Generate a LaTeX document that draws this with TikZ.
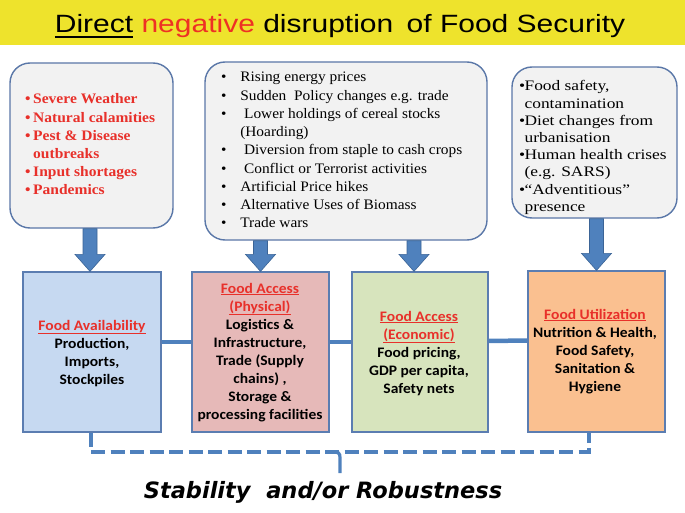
\documentclass[tikz,border=0pt]{standalone}
\usepackage{fontspec}
\setmainfont{Liberation Serif}
\newfontfamily\arialf{Liberation Sans}
\newfontfamily\calf{Carlito}
\newfontfamily\dvf{DejaVu Sans}
\usetikzlibrary{arrows.meta,calc}
\definecolor{ttlyellow}{HTML}{EEE32C}
\definecolor{ttlred}{HTML}{EE3124}
\definecolor{listred}{HTML}{E8302A}
\definecolor{boxedge}{HTML}{5A77A8}
\definecolor{boxfill}{HTML}{F2F2F2}
\definecolor{arrblue}{HTML}{4F81BD}
\definecolor{arrdark}{HTML}{3B6496}
\definecolor{availfill}{HTML}{C6D9F1}
\definecolor{physfill}{HTML}{E6B9B8}
\definecolor{econfill}{HTML}{D7E4BD}
\definecolor{utilfill}{HTML}{FAC090}
\definecolor{catedge}{HTML}{5B7DB1}
\newcommand\bu[1]{\makebox[#1][l]{\textbullet}}
\newcommand\thickul[1]{\setbox0\hbox{#1}\rlap{\rule[-5pt]{\wd0}{1.8pt}}\box0\relax}
\newcommand\blockarrow[2]{\path[draw=arrdark,line width=0.6pt,fill=arrblue] let \p1=(#1), \p2=(#2) in
  (\x1-7pt,\y1) -- (\x1+7pt,\y1) -- (\x1+7pt,\y2+17pt) -- (\x1+15pt,\y2+17pt) -- (\x1,\y2)
  -- (\x1-15pt,\y2+17pt) -- (\x1-7pt,\y2+17pt) -- cycle;}
\tikzset{
  topbox/.style={draw=boxedge,line width=1.4pt,fill=boxfill,rounded corners=20pt,inner sep=0pt},
  catbox/.style={draw=catedge,line width=1.2pt,inner sep=0pt},
  listtxt/.style={anchor=base west,inner sep=0pt},
  cattxt/.style={anchor=base,inner sep=0pt,font=\calf\bfseries\fontsize{14.5}{18}\selectfont},
  conn/.style={draw=arrblue,line width=4.5pt},
  dashconn/.style={draw=arrblue,line width=3.2pt,dash pattern=on 14pt off 5.5pt}
}
\begin{document}
\begin{tikzpicture}[x=1pt,y=-1pt]
\useasboundingbox (0,0) rectangle (685,513);
% title band
\fill[ttlyellow] (0,0) rectangle (685,45);
\node[anchor=base,inner sep=0pt,font=\arialf\fontsize{25}{30}\selectfont] (title) at (340,33)
  {\scalebox{1.2}[1]{\thickul{Direct} \textcolor{ttlred}{negative} disruption\, of Food Security}};
% top boxes
\node[topbox,minimum width=163pt,minimum height=165pt] (t1) at (91.5,145.5) {};
\node[topbox,minimum width=282pt,minimum height=178pt] (t2) at (346,151) {};
\node[topbox,minimum width=165pt,minimum height=151pt] (t3) at (594.5,142.5) {};
% category boxes
\node[catbox,fill=availfill,minimum width=138pt,minimum height=160pt] (A) at (92,352) {};
\node[catbox,fill=physfill,minimum width=137pt,minimum height=160pt] (B) at (260.5,352) {};
\node[catbox,fill=econfill,minimum width=136pt,minimum height=160pt] (C) at (420,352) {};
\node[catbox,fill=utilfill,minimum width=137pt,minimum height=161pt] (D) at (596.5,351.5) {};
% horizontal connectors
\draw[conn] ([yshift=10pt]A.east) -- ([yshift=10pt]B.west);
\draw[conn] ([yshift=10pt]B.east) -- ([yshift=10pt]C.west);
\draw[conn] ([yshift=11pt]C.east) -- ([yshift=11pt]D.west);
% block arrows
\blockarrow{$(t1.south)+(-1.5pt,0)$}{$(A.north)+(-2pt,0)$}
\blockarrow{B.north |- t2.south}{B.north}
\blockarrow{$(C.north |- t2.south)+(-6pt,0)$}{$(C.north)+(-6pt,0)$}
\blockarrow{D.north |- t3.south}{D.north}
% lists
\node[listtxt,text=listred,font=\bfseries\fontsize{14.5}{18.2}\selectfont] (l1) at (25,104)
 {\scalebox{1.07}[1]{\begin{tabular}[t]{@{}l@{}}
  \bu{7.5pt}Severe Weather\\
  \bu{7.5pt}Natural calamities\\
  \bu{7.5pt}Pest \& Disease\\
  \hspace*{7.5pt}outbreaks\\
  \bu{7.5pt}Input shortages\\
  \bu{7.5pt}Pandemics
  \end{tabular}}};
\node[listtxt,font=\fontsize{14.5}{18.25}\selectfont] (l2) at (221,82)
 {\scalebox{1.06}[1]{\begin{tabular}[t]{@{}l@{}}
  \bu{18pt}Rising energy prices\\
  \bu{18pt}Sudden\ \ Policy changes e.g. trade\\
  \bu{18pt}\ Lower holdings of cereal stocks\\
  \hspace*{18pt}(Hoarding)\\
  \bu{18pt}\ Diversion from staple to cash crops\\
  \bu{18pt}\ Conflict or Terrorist activities\\
  \bu{18pt}Artificial Price hikes\\
  \bu{18pt}Alternative Uses of Biomass\\
  \bu{18pt}Trade wars
  \end{tabular}}};
\node[listtxt,font=\fontsize{14.5}{17.2}\selectfont] (l3) at (519,91)
 {\scalebox{1.2}[1]{\begin{tabular}[t]{@{}l@{}}
  \bu{4.5pt}Food safety,\\
  \hspace*{4.5pt}contamination\\
  \bu{4.5pt}Diet changes from\\
  \hspace*{4.5pt}urbanisation\\
  \bu{4.5pt}Human health crises\\
  \hspace*{4.5pt}(e.g. SARS)\\
  \bu{4.5pt}``Adventitious''\\
  \hspace*{4.5pt}presence
  \end{tabular}}};
% category texts
\node[cattxt] (ta) at (92,330)
 {\scalebox{1.07}[1]{\begin{tabular}[t]{@{}c@{}}
  \textcolor{listred}{\underline{Food Availability}}\\
  Production,\\ Imports,\\ Stockpiles
  \end{tabular}}};
\node[cattxt] (tb) at (260,293)
 {\scalebox{1.07}[1]{\begin{tabular}[t]{@{}c@{}}
  \textcolor{listred}{\underline{Food Access}}\\
  \textcolor{listred}{\underline{(Physical)}}\\
  Logistics \&\\ Infrastructure,\\ Trade (Supply\\ chains) ,\\ Storage \&\\ processing facilities
  \end{tabular}}};
\node[cattxt] (tc) at (419,321)
 {\scalebox{1.07}[1]{\begin{tabular}[t]{@{}c@{}}
  \textcolor{listred}{\underline{Food Access}}\\
  \textcolor{listred}{\underline{(Economic)}}\\
  Food pricing,\\ GDP per capita,\\ Safety nets
  \end{tabular}}};
\node[cattxt] (td) at (595,319)
 {\scalebox{1.07}[1]{\begin{tabular}[t]{@{}c@{}}
  \textcolor{listred}{\underline{Food Utilization}}\\
  Nutrition \& Health,\\ Food Safety,\\ Sanitation \&\\ Hygiene
  \end{tabular}}};
% stability bracket
\coordinate (bl) at (91,452);
\coordinate (br) at (589,452);
\coordinate (bm) at (340,452);
\draw[dashconn] ([xshift=-1pt]A.south) -- (A.south -| bl) -- (bl) -- (br) -- (D.south -| br);
\node[anchor=base,inner sep=0pt,font=\dvf\bfseries\itshape\fontsize{22.5}{27}\selectfont] (stab) at (323,498)
  {Stability\ \ and/or Robustness};
\draw[arrblue,line width=3.2pt] ($(bm)+(-8pt,0)$) .. controls ($(bm)+(-1pt,0)$) and ($(bm)+(0,-1pt)$) .. ($(bm)+(0,-6pt)$) -- ($(bm)+(0,-21pt)$);
\end{tikzpicture}
\end{document}
